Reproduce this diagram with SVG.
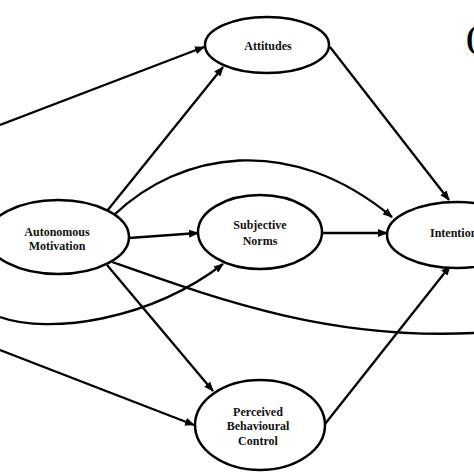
<svg xmlns="http://www.w3.org/2000/svg" width="474" height="474" viewBox="0 0 474 474">
<style>
.node ellipse{fill:#fff;stroke:#000;stroke-width:2.5}
.node text,.lbl{font-family:"Liberation Serif","Times New Roman",serif;font-weight:bold;font-size:12px;fill:#111;text-anchor:middle}
.edges path{fill:none;stroke:#000;stroke-width:2.3}
</style>
<defs>
<marker id="arr" markerWidth="10" markerHeight="8" refX="9" refY="4" orient="auto" markerUnits="userSpaceOnUse">
<path d="M0,0 L10,4 L0,8 Z" fill="#000"/>
</marker>
</defs>
<rect width="474" height="474" fill="#fff"/>
<g class="edges">
<path d="M0,125 L204,47" marker-end="url(#arr)"/>
<path d="M107,211 L223,67" marker-end="url(#arr)"/>
<path d="M114,215 C180,152 290,132 392,217" marker-end="url(#arr)"/>
<path d="M129,238 L198,233" marker-end="url(#arr)"/>
<path d="M322,233 L387,233" marker-end="url(#arr)"/>
<path d="M330,47 L449,200" marker-end="url(#arr)"/>
<path d="M0,317 C50,335 150,320 223,264" marker-end="url(#arr)"/>
<path d="M112,262 C220,300 330,340 474,333"/>
<path d="M107,265 L213,391" marker-end="url(#arr)"/>
<path d="M0,350 L194,425" marker-end="url(#arr)"/>
<path d="M325,424 L450,266" marker-end="url(#arr)"/>
</g>
<g id="attitudes" class="node">
<ellipse cx="267" cy="45" rx="62" ry="28"/>
<text x="268" y="50">Attitudes</text>
</g>
<g id="autonomous-motivation" class="node">
<ellipse cx="58" cy="237" rx="71" ry="37"/>
<text x="57" y="236">Autonomous</text>
<text x="57" y="250">Motivation</text>
</g>
<g id="subjective-norms" class="node">
<ellipse cx="260" cy="232" rx="62" ry="37"/>
<text x="260" y="229">Subjective</text>
<text x="260" y="245">Norms</text>
</g>
<g id="intentions" class="node">
<ellipse cx="457" cy="235" rx="70" ry="33"/>
<text x="456" y="237">Intentions</text>
</g>
<g id="pbc" class="node">
<ellipse cx="260" cy="425" rx="65" ry="45"/>
<text x="258" y="416">Perceived</text>
<text x="258" y="430">Behavioural</text>
<text x="258" y="445">Control</text>
</g>
<text x="466" y="48" style="font-family:'Liberation Serif',serif;font-weight:bold;font-size:32px">(</text>
</svg>
